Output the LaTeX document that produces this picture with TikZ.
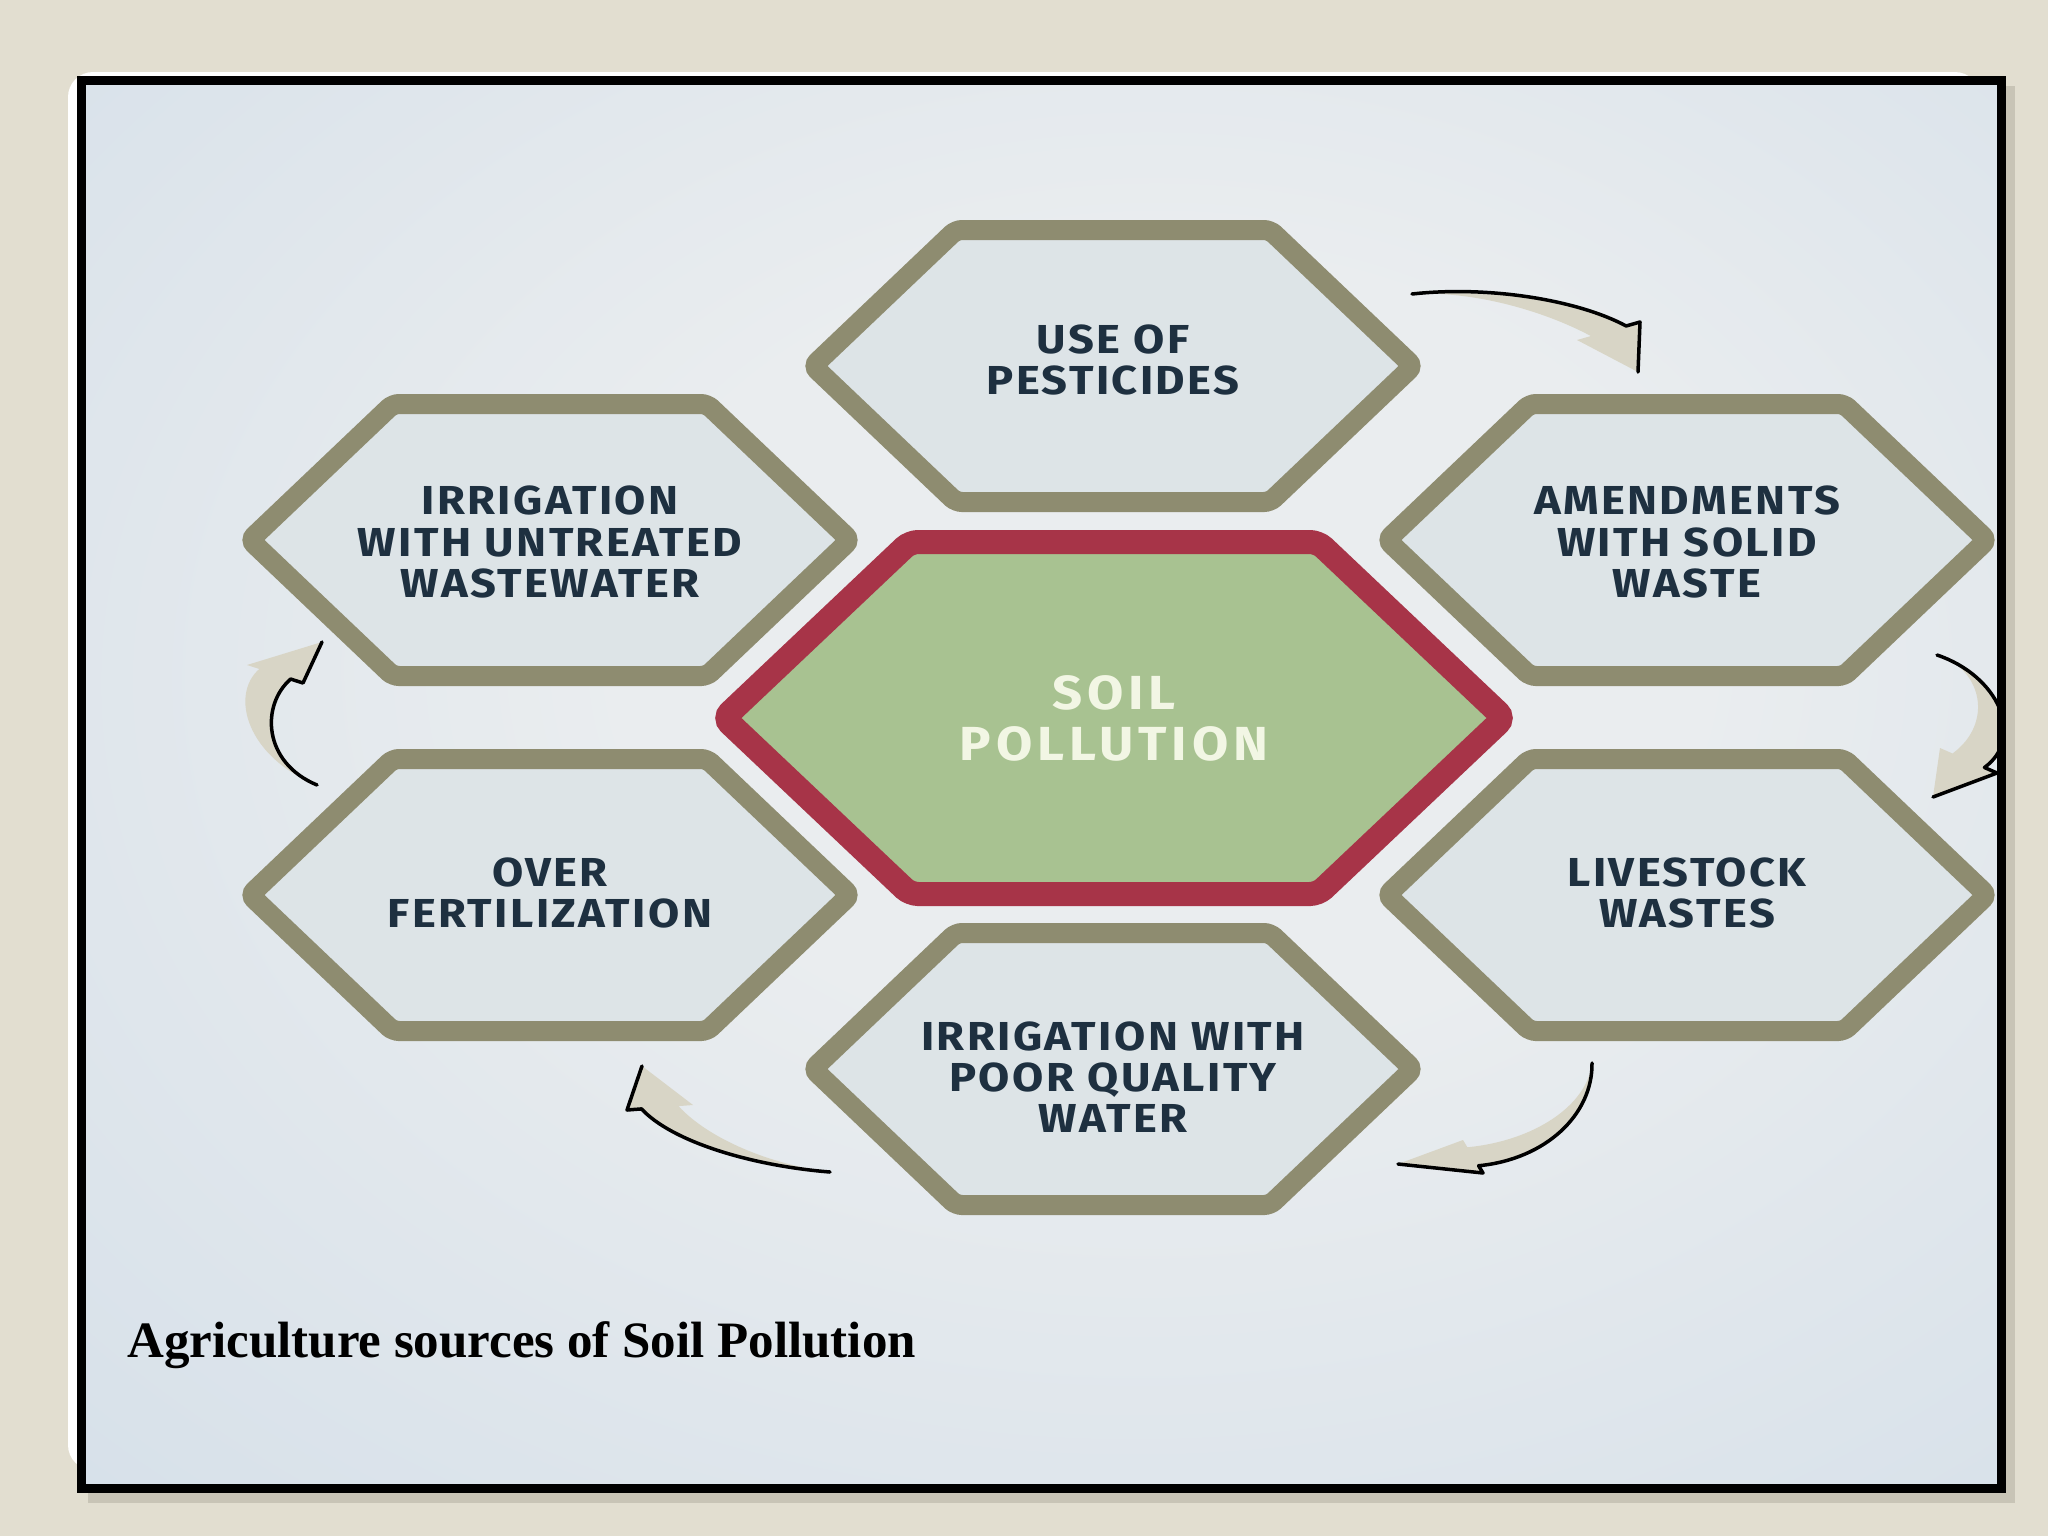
\documentclass[tikz,border=0pt]{standalone}
\usepackage{fontspec}
\setmainfont{Liberation Serif}
\newfontfamily\sechsfont{Fira Sans}[FakeStretch=1.12, LetterSpace=6]
\newfontfamily\mittefont{Fira Sans}[FakeStretch=1.1, LetterSpace=10]
\usetikzlibrary{calc}
\definecolor{beige}{RGB}{226,222,208}
\definecolor{schatten}{RGB}{200,196,182}
\definecolor{innen}{RGB}{234,237,239}
\definecolor{aussen}{RGB}{192,210,227}
\definecolor{oliv}{RGB}{142,140,112}
\definecolor{feld}{RGB}{221,228,231}
\definecolor{rot}{RGB}{167,52,72}
\definecolor{gruen}{RGB}{168,194,145}
\definecolor{tinte}{RGB}{30,48,64}
\definecolor{creme}{RGB}{242,246,228}
\definecolor{pfeilfarbe}{RGB}{216,213,198}
\pgfdeclareradialshading{hinter}{\pgfpoint{4bp}{6bp}}{color(0bp)=(innen); color(14bp)=(innen); color(68bp)=(aussen)}
\tikzset{sechseck/.style={draw=oliv, fill=feld, line width=0.2cm, rounded corners=0.06cm},
	mitte/.style={draw=rot, fill=gruen, line width=0.24cm, rounded corners=0.08cm},
	sechstext/.style={align=center, text=tinte, inner sep=0pt, font=\sechsfont\bfseries\fontsize{11.5}{11.7}\selectfont},
	mittetext/.style={align=center, text=creme, inner sep=0pt, font=\mittefont\bfseries\fontsize{13.6}{14.5}\selectfont},
	pfeilkoerper/.style={fill=pfeilfarbe},
	pfeilrand/.style={draw=black, line width=0.035cm, line cap=round, line join=round}}
% Anfang, Kontrolle 1, Kontrolle 2, Widerhaken (schwarze Seite), Widerhaken, Spitze
\newcommand{\pfeil}[6]{%
	\coordinate (#1m) at ($(#4)!0.5!(#5)$);
	\coordinate (#1e) at ($(#4)!0.22!(#5)$);
	\coordinate (#1f) at ($(#4)!0.78!(#5)$);
	\fill[pfeilkoerper] (#1) .. controls ($(#2)+0.5*(#1e)-0.5*(#1m)$) and ($(#3)+(#1e)-(#1m)$) .. (#1e) -- (#4) -- (#6) -- (#5) -- (#1f)
		.. controls ($(#3)+(#1f)-(#1m)$) and ($(#2)+0.5*(#1f)-0.5*(#1m)$) .. cycle;
	\draw[pfeilrand] (#1) .. controls ($(#2)+0.5*(#1e)-0.5*(#1m)$) and ($(#3)+(#1e)-(#1m)$) .. (#1e) -- (#4) -- (#6);
}

\begin{document}
\begin{tikzpicture}[x=0.01cm, y=-0.01cm]
	\useasboundingbox (0,0) rectangle (2048,1536);
	%Hintergrund
	\fill[beige] (0,0) rectangle (2048,1536);
	\fill[schatten] (88,86) rectangle (2015,1503);
	\fill[white, rounded corners=0.25cm] (68,72) rectangle (1980,1470);
	\shade[shading=hinter] (85,85) rectangle (1997,1484);
	%Mittelpunkte
	\coordinate (hPest) at (1113,366);
	\coordinate (hAbwasser) at (550,540);
	\coordinate (hAbfall) at (1687,540);
	\coordinate (hDuenger) at (550,895);
	\coordinate (hVieh) at (1687,895);
	\coordinate (hWasser) at (1113,1069);
	\coordinate (hBoden) at (1114,718);
	%Pfeile
	\coordinate (p1a) at (1412,294); \coordinate (p1c) at (1480,288); \coordinate (p1d) at (1560,305);
	\coordinate (p1l) at (1640,322); \coordinate (p1r) at (1577,340); \coordinate (p1t) at (1638,372);
	\coordinate (p2a) at (1937,655); \coordinate (p2c) at (1990,672); \coordinate (p2d) at (2010,730);
	\coordinate (p2l) at (1997,773); \coordinate (p2r) at (1940,748); \coordinate (p2t) at (1933,797);
	\coordinate (p3a) at (1592,1063); \coordinate (p3c) at (1590,1110); \coordinate (p3d) at (1540,1150);
	\coordinate (p3l) at (1483,1173); \coordinate (p3r) at (1463,1140); \coordinate (p3t) at (1398,1164);
	\coordinate (p4a) at (830,1172); \coordinate (p4c) at (760,1165); \coordinate (p4d) at (690,1140);
	\coordinate (p4l) at (627,1110); \coordinate (p4r) at (693,1105); \coordinate (p4t) at (642,1066);
	\coordinate (p5a) at (317,785); \coordinate (p5c) at (255,760); \coordinate (p5d) at (245,700);
	\coordinate (p5l) at (303,683); \coordinate (p5r) at (247,665); \coordinate (p5t) at (322,642);
	\begin{scope}
		\clip (85,85) rectangle (1997,1484);
		\foreach \p in {p1,p2,p3,p4,p5}{
			\pfeil{\p a}{\p c}{\p d}{\p l}{\p r}{\p t}
		}
	\end{scope}
	%Sechsecke
	\foreach \n in {hPest,hAbwasser,hAbfall,hDuenger,hVieh,hWasser}
		\draw[sechseck] ($(\n)+(-300,0)$) -- ++(143,-136) -- ++(314,0) -- ++(143,136) -- ++(-143,136) -- ++(-314,0) -- cycle;
	\draw[mitte] ($(hBoden)+(-390,0)$) -- ++(186,-176) -- ++(408,0) -- ++(186,176) -- ++(-186,176) -- ++(-408,0) -- cycle;
	%Texte
	\node[sechstext] (pest) at ($(hPest)+(0,-6)$) {USE OF\\PESTICIDES};
	\node[sechstext] (abwasser) at ($(hAbwasser)+(0,2)$) {IRRIGATION\\WITH UNTREATED\\WASTEWATER};
	\node[sechstext] (abfall) at ($(hAbfall)+(0,2)$) {AMENDMENTS\\WITH SOLID\\WASTE};
	\node[sechstext] (duenger) at ($(hDuenger)+(0,-2)$) {OVER\\FERTILIZATION};
	\node[sechstext] (vieh) at ($(hVieh)+(0,-2)$) {LIVESTOCK\\WASTES};
	\node[sechstext] (wasser) at ($(hWasser)+(0,8)$) {IRRIGATION WITH\\POOR QUALITY\\WATER};
	\node[mittetext] (boden) at (hBoden) {SOIL\\POLLUTION};
	\node[anchor=base west, font=\bfseries\fontsize{14.5}{17}\selectfont] (titel) at (115,1357) {Agriculture sources of Soil Pollution};
	%Rahmen
	\draw[black, line width=0.09cm] (81.5,80.5) rectangle (2001.5,1488.5);
\end{tikzpicture}
\end{document}
